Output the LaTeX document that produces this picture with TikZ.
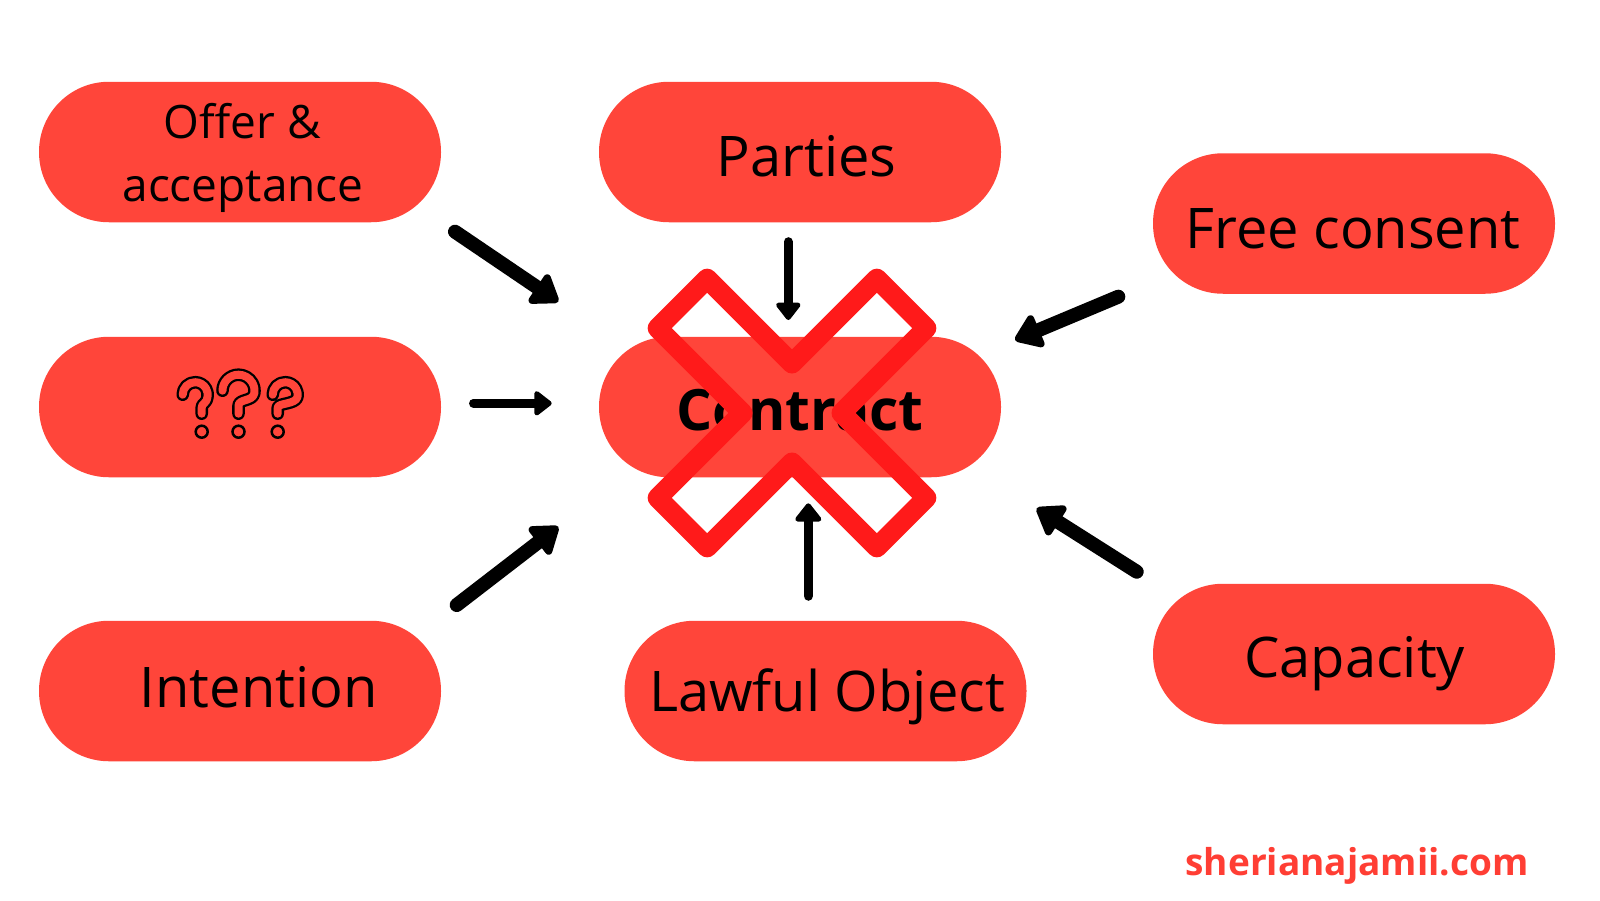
\documentclass[tikz,border=0pt]{standalone}
\usepackage{fontspec}
\setmainfont{Open Sans}
\usetikzlibrary{arrows.meta}
\definecolor{boxred}{RGB}{255,69,58}
\definecolor{xred}{RGB}{255,26,26}
\definecolor{webred}{RGB}{255,62,52}
\tikzset{
  pill/.style={fill=boxred, draw=none, rounded corners=70pt, minimum width=402pt, minimum height=140.5pt, inner sep=0pt},
  lbl/.style={anchor=base, inner sep=0pt, text=black, font=\fontsize{56}{60}\selectfont},
  smalllbl/.style={anchor=base, inner sep=0pt, text=black, font=\fontsize{46}{50}\selectfont},
  boldlbl/.style={anchor=base, inner sep=0pt, text=black, font=\bfseries\fontsize{57}{60}\selectfont},
  bigarrow/.style={draw=black, line width=14pt, line cap=round, -{Triangle[length=29pt,width=39pt,round]}},
  midarrow/.style={draw=black, line width=9pt, line cap=round, -{Triangle[length=19pt,width=28pt,round]}},
  qstroke/.style={draw=black, line width=2.3pt, double=boxred, double distance=8pt, line cap=round, line join=round},
  qdot/.style={draw=black, fill=boxred, line width=2.5pt},
  xmark/.style={draw=xred, line width=20pt, line join=round}
}
\begin{document}
\begin{tikzpicture}[x=1pt,y=1pt]
\useasboundingbox[fill=white] (0,0) rectangle (1600,-900);
% boxes
\node[pill] (offer) at (240,-152) {};
\node[pill] (parties) at (800,-152) {};
\node[pill] (free) at (1354,-223.5) {};
\node[pill] (qq) at (240,-407) {};
\node[pill] (contract) at (800,-407) {};
\node[pill] (intention) at (240,-691) {};
\node[pill] (lawful) at (825.5,-691) {};
\node[pill] (capacity) at (1354,-654) {};
% labels
\node[smalllbl] (toffer1) at (242.5,-138) {Offer \&};
\node[smalllbl] (toffer2) at (243,-201) {acceptance};
\node[lbl] (tparties) at (806.6,-176.5) {Parties};
\node[lbl] (tfree) at (1353,-248) {Free consent};
\node[boldlbl] (tcontract) at (800,-430.6) {Contract};
\node[lbl] (tintention) at (258.7,-707) {Intention};
\node[lbl] (tlawful) at (827,-711) {Lawful Object};
\node[lbl] (tcapacity) at (1354.6,-677.6) {Capacity};
\node[anchor=base, inner sep=0pt, text=webred, font=\bfseries\fontsize{37}{40}\selectfont] (web) at (1357,-875) {sherianajamii.com};
% question marks
\begin{scope}[shift={(201.7,-431.7)}]
  \draw[qstroke] (-19,37) arc[start angle=180,end angle=-10,radius=12.5] .. controls (4.5,27) and (0,29) .. (0,24) -- (0,18);
  \draw[qdot] (0,0) circle[radius=6];
\end{scope}
\begin{scope}[shift={(238.5,-431.7)}]
  \draw[qstroke] (-16,41) arc[start angle=180,end angle=-10,radius=16] .. controls (14,30) and (0,33) .. (0,26) -- (0,18);
  \draw[qdot] (0,0) circle[radius=6];
\end{scope}
\begin{scope}[shift={(277.7,-431.7)}]
  \draw[qstroke] (-5,37) arc[start angle=180,end angle=-10,radius=12.5] .. controls (18,27) and (0,29) .. (0,24) -- (0,18);
  \draw[qdot] (0,0) circle[radius=6];
\end{scope}
% arrow end points
\coordinate (a1s) at (455,-231.7);   \coordinate (a1e) at (558.3,-301.7);
\coordinate (a2s) at (473.3,-403.3); \coordinate (a2e) at (551.7,-403.3);
\coordinate (a3s) at (456.7,-605);   \coordinate (a3e) at (558.3,-526.7);
\coordinate (a4s) at (788.3,-241.7); \coordinate (a4e) at (788.3,-320);
\coordinate (a5s) at (1118.3,-296.7);\coordinate (a5e) at (1015,-340);
\coordinate (a6s) at (1136.7,-571.7);\coordinate (a6e) at (1036.7,-508.3);
\coordinate (a7s) at (808.3,-596);   \coordinate (a7e) at (808.3,-503.3);
\draw[bigarrow] (a1s) -- (a1e);
\draw[midarrow, line width=8.5pt] (a2s) -- (a2e);
\draw[bigarrow] (a3s) -- (a3e);
\draw[midarrow] (a4s) -- (a4e);
\draw[bigarrow] (a5s) -- (a5e);
\draw[bigarrow] (a6s) -- (a6e);
\draw[midarrow, line width=9.5pt, -{Triangle[length=20pt,width=30pt,round]}] (a7s) -- (a7e);
% cross
\begin{scope}[shift={(792,-413)}, rotate=45]
  \draw[xmark] (35,155) -- (-35,155) -- (-35,35) -- (-155,35) -- (-155,-35) -- (-35,-35) -- (-35,-155) -- (35,-155) -- (35,-35) -- (155,-35) -- (155,35) -- (35,35) -- cycle;
\end{scope}
\end{tikzpicture}
\end{document}
